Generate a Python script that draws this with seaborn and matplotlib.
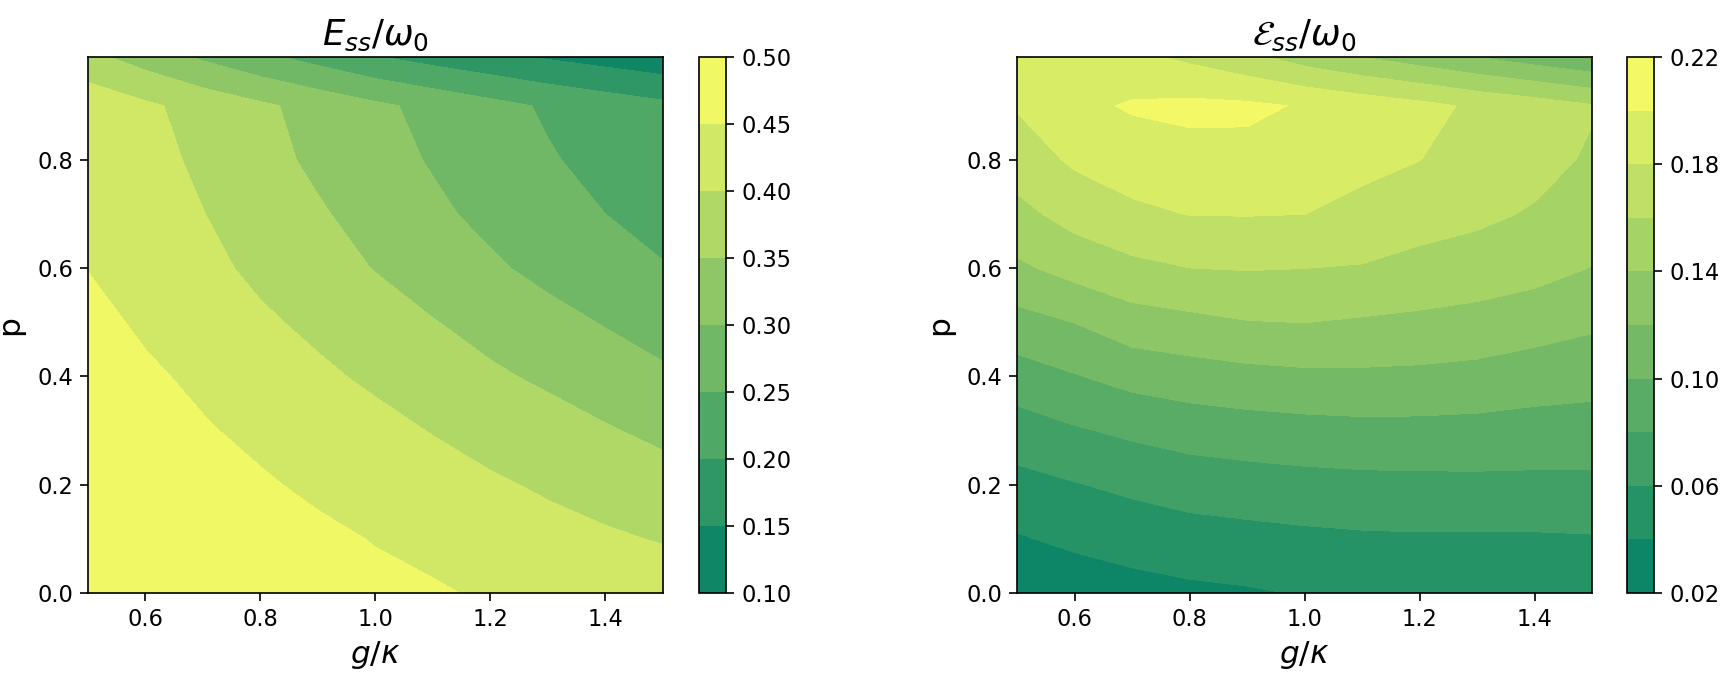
"""
two filled contour maps of the steady state energy vs coupling g/kappa and p
"""

import numpy as np
import matplotlib
matplotlib.use("Agg")
import matplotlib.pyplot as plt
import seaborn as sns

# grid the values were sampled on
g_vals = [0.5, 0.6, 0.7, 0.8, 0.9, 1.0, 1.1, 1.2, 1.3, 1.4, 1.5]
p_vals = [0.0, 0.1, 0.2, 0.3, 0.4, 0.5, 0.6, 0.7, 0.8, 0.9, 0.99]

# E_ss / omega_0, one row per p value, columns follow g_vals
E_ss = [
    [0.499, 0.494, 0.487, 0.479, 0.470, 0.461, 0.455, 0.444, 0.436, 0.430, 0.426],
    [0.495, 0.487, 0.479, 0.470, 0.459, 0.448, 0.437, 0.426, 0.415, 0.406, 0.397],
    [0.490, 0.479, 0.468, 0.455, 0.442, 0.430, 0.419, 0.406, 0.394, 0.382, 0.369],
    [0.483, 0.469, 0.454, 0.440, 0.426, 0.413, 0.398, 0.383, 0.369, 0.354, 0.339],
    [0.474, 0.457, 0.441, 0.426, 0.408, 0.392, 0.375, 0.357, 0.342, 0.325, 0.308],
    [0.463, 0.443, 0.425, 0.407, 0.390, 0.372, 0.352, 0.334, 0.315, 0.297, 0.279],
    [0.449, 0.431, 0.412, 0.390, 0.370, 0.348, 0.327, 0.307, 0.287, 0.269, 0.252],
    [0.446, 0.423, 0.401, 0.377, 0.355, 0.333, 0.309, 0.288, 0.268, 0.250, 0.238],
    [0.441, 0.416, 0.391, 0.365, 0.341, 0.318, 0.296, 0.275, 0.254, 0.237, 0.224],
    [0.433, 0.408, 0.383, 0.358, 0.334, 0.309, 0.287, 0.265, 0.244, 0.227, 0.211],
    [0.364, 0.328, 0.293, 0.261, 0.232, 0.203, 0.181, 0.163, 0.145, 0.130, 0.115],
]

# calligraphic E_ss / omega_0, same layout
calE_ss = [
    [0.0220, 0.0280, 0.0330, 0.0360, 0.0380, 0.0410, 0.0430, 0.0440, 0.0440, 0.0445, 0.0450],
    [0.0383, 0.0440, 0.0480, 0.0517, 0.0537, 0.0557, 0.0572, 0.0578, 0.0575, 0.0577, 0.0585],
    [0.0536, 0.0590, 0.0642, 0.0688, 0.0713, 0.0733, 0.0745, 0.0751, 0.0755, 0.0752, 0.0755],
    [0.0708, 0.0780, 0.0838, 0.0886, 0.0911, 0.0929, 0.0943, 0.0942, 0.0935, 0.0925, 0.0920],
    [0.0910, 0.0988, 0.1067, 0.1108, 0.1139, 0.1160, 0.1164, 0.1156, 0.1137, 0.1093, 0.1068],
    [0.1129, 0.1203, 0.1313, 0.1350, 0.1392, 0.1402, 0.1379, 0.1360, 0.1333, 0.1292, 0.1235],
    [0.1364, 0.1470, 0.1551, 0.1599, 0.1610, 0.1601, 0.1588, 0.1539, 0.1508, 0.1464, 0.1395],
    [0.1543, 0.1673, 0.1760, 0.1805, 0.1808, 0.1801, 0.1740, 0.1685, 0.1640, 0.1581, 0.1500],
    [0.1696, 0.1830, 0.1898, 0.1934, 0.1945, 0.1900, 0.1855, 0.1802, 0.1735, 0.1665, 0.1575],
    [0.1815, 0.1950, 0.2021, 0.2045, 0.2035, 0.1985, 0.1920, 0.1855, 0.1768, 0.1700, 0.1615],
    [0.1900, 0.1880, 0.1850, 0.1760, 0.1650, 0.1510, 0.1400, 0.1300, 0.1200, 0.1100, 0.1010],
]

# contour levels and colorbar ticks
E_levels = [0.10, 0.15, 0.20, 0.25, 0.30, 0.35, 0.40, 0.45, 0.50]
E_ticks = [0.10, 0.15, 0.20, 0.25, 0.30, 0.35, 0.40, 0.45, 0.50]
calE_levels = [0.02, 0.04, 0.06, 0.08, 0.10, 0.12, 0.14, 0.16, 0.18, 0.20, 0.22]
calE_ticks = [0.02, 0.06, 0.10, 0.14, 0.18, 0.22]

x_ticks = [0.6, 0.8, 1.0, 1.2, 1.4]
y_ticks = [0.0, 0.2, 0.4, 0.6, 0.8]


def draw_panel(fig, ax_rect, cax_rect, values, levels, ticks, title, cmap):
    """one contour panel plus its colorbar"""
    ax = fig.add_axes(ax_rect)
    cax = fig.add_axes(cax_rect)

    G, P = np.meshgrid(g_vals, p_vals)
    cs = ax.contourf(G, P, np.array(values), levels=levels, cmap=cmap)

    ax.set_xticks(x_ticks)
    ax.set_yticks(y_ticks)
    ax.tick_params(labelsize=10.8, length=3.7)
    ax.set_xlabel(r'$g/\kappa$', fontsize=15, labelpad=4)
    ax.set_ylabel('p', fontsize=15, labelpad=6)
    ax.set_title(title, fontsize=17, pad=6)

    cb = fig.colorbar(cs, cax=cax, ticks=ticks)
    cb.ax.set_yticklabels([f'{t:.2f}' for t in ticks])
    cb.ax.tick_params(labelsize=10.8, length=3.7)
    return ax


def main():
    cmap = sns.color_palette("summer", as_cmap=True)

    fig = plt.figure(figsize=(11.5, 4.5), dpi=150)

    bottom = 0.1215
    height = 0.794
    width = 0.3333
    cb_w = 0.0157

    draw_panel(fig, [0.0510, bottom, width, height], [0.4052, bottom, cb_w, height],
               E_ss, E_levels, E_ticks, r'$E_{ss}/\omega_0$', cmap)
    draw_panel(fig, [0.5896, bottom, width, height], [0.9432, bottom, cb_w, height],
               calE_ss, calE_levels, calE_ticks, r'$\mathcal{E}_{ss}/\omega_0$', cmap)

    fig.savefig('out.png', dpi=150, facecolor='white')


if __name__ == "__main__":
    main()
